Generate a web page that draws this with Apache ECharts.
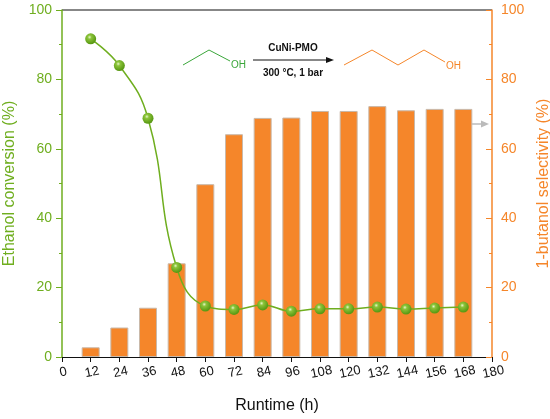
<!DOCTYPE html>
<html><head><meta charset="utf-8">
<script src="https://cdn.jsdelivr.net/npm/echarts@6/dist/echarts.min.js"></script>
<style>html,body{margin:0;padding:0;background:#fff}#c{width:550px;height:419px}</style>
</head><body><div id="c"></div>
<script>
var runtime = [12, 24, 36, 48, 60, 72, 84, 96, 108, 120, 132, 144, 156, 168];
var selectivity = [2.8, 8.5, 14.2, 27, 49.8, 64.2, 68.9, 69.0, 70.9, 70.9, 72.3, 71.1, 71.5, 71.5];
var conversion = [91.7, 84, 68.8, 25.8, 14.7, 13.7, 15.0, 13.2, 13.9, 13.9, 14.4, 13.8, 14.1, 14.4];
var xTicks = [0, 12, 24, 36, 48, 60, 72, 84, 96, 108, 120, 132, 144, 156, 168, 180];
var yTicks = [0, 20, 40, 60, 80, 100];

var GREEN = '#6fae1f', ORANGE = '#f5862a', FONT = 'Liberation Sans, Arial, sans-serif';
var chart = echarts.init(document.getElementById('c'));
function pairs(v){ return runtime.map(function(x,i){return [x, v[i]];}); }
chart.setOption({
  animation: false,
  textStyle: {fontFamily: FONT},
  grid: {left: 62, right: 58, top: 10, bottom: 62, outerBoundsMode: 'none', containLabel: false},
  xAxis: {
    type: 'value', min: xTicks[0], max: xTicks[xTicks.length-1], interval: 12,
    name: 'Runtime (h)', nameLocation: 'middle', nameGap: 41,
    nameTextStyle: {fontSize: 16, color: '#111', fontFamily: FONT},
    axisLine: {lineStyle: {color: '#111', width: 1.2}},
    axisTick: {show: true, length: 5, lineStyle: {color: '#111'}},
    axisLabel: {fontSize: 13, color: '#111', rotate: 12, margin: 9, align: 'center', verticalAlign: 'top', fontFamily: FONT},
    splitLine: {show: false}
  },
  yAxis: [{
    type: 'value', min: yTicks[0], max: yTicks[yTicks.length-1], interval: 20, position: 'left',
    name: 'Ethanol conversion (%)', nameLocation: 'middle', nameGap: 37,
    nameTextStyle: {fontSize: 16, color: GREEN, fontFamily: FONT},
    axisLine: {show: true, lineStyle: {color: GREEN, width: 1.5}},
    axisTick: {show: true, inside: false, length: 6, lineStyle: {color: GREEN}},
    minorTick: {show: true, splitNumber: 2, length: 3, lineStyle: {color: GREEN}},
    axisLabel: {fontSize: 14, color: GREEN, margin: 10, fontFamily: FONT},
    splitLine: {show: false}
  }, {
    type: 'value', min: yTicks[0], max: yTicks[yTicks.length-1], interval: 20, position: 'right',
    name: '1-butanol selectivity (%)', nameLocation: 'middle', nameGap: 36, nameRotate: 90,
    nameTextStyle: {fontSize: 16, color: ORANGE, fontFamily: FONT},
    axisLine: {show: true, lineStyle: {color: ORANGE, width: 1.5}},
    axisTick: {show: true, inside: true, length: 6, lineStyle: {color: ORANGE}},
    minorTick: {show: true, splitNumber: 2, length: 3, lineStyle: {color: ORANGE}},
    axisLabel: {fontSize: 14, color: ORANGE, margin: 9, fontFamily: FONT},
    splitLine: {show: false}
  }],
  series: [{
    type: 'bar', yAxisIndex: 1, data: pairs(selectivity), barWidth: 18,
    itemStyle: {color: ORANGE, borderColor: '#c9b9aa', borderWidth: 1},
    z: 1
  }, {
    type: 'line', yAxisIndex: 0, data: pairs(conversion), smooth: 0.45,
    lineStyle: {color: GREEN, width: 1.5},
    symbol: 'circle', symbolSize: 11,
    itemStyle: {color: new echarts.graphic.RadialGradient(0.4, 0.35, 0.6, [
      {offset: 0, color: '#e6f7c8'}, {offset: 0.3, color: '#8cc43a'}, {offset: 1, color: '#5a9a14'}])},
    z: 3
  }],
  graphic: [
    {type: 'line', shape: {x1: 62, y1: 10, x2: 492, y2: 10}, style: {stroke: '#111', lineWidth: 1.2}},
    {type: 'polyline', shape: {points: [[183, 65], [209, 50], [230, 61]]}, style: {stroke: '#3aa63a', lineWidth: 1, fill: null}},
    {type: 'text', x: 231, y: 60, style: {text: 'OH', fill: '#3aa63a', fontSize: 10, fontFamily: FONT}},
    {type: 'line', shape: {x1: 253, y1: 60, x2: 330, y2: 60}, style: {stroke: '#111', lineWidth: 1}},
    {type: 'polygon', shape: {points: [[334, 60], [326, 57], [326, 63]]}, style: {fill: '#111'}},
    {type: 'text', x: 293, y: 48, style: {text: 'CuNi-PMO', fill: '#111', fontSize: 10, fontWeight: 'bold', align: 'center', verticalAlign: 'middle', fontFamily: FONT}},
    {type: 'text', x: 293, y: 73, style: {text: '300 °C, 1 bar', fill: '#111', fontSize: 10, fontWeight: 'bold', align: 'center', verticalAlign: 'middle', fontFamily: FONT}},
    {type: 'polyline', shape: {points: [[344, 65], [372, 50], [398, 65], [424, 50], [445, 62]]}, style: {stroke: ORANGE, lineWidth: 1, fill: null}},
    {type: 'text', x: 446, y: 61, style: {text: 'OH', fill: ORANGE, fontSize: 10, fontFamily: FONT}},
    {type: 'line', shape: {x1: 464, y1: 124, x2: 482, y2: 124}, style: {stroke: '#bbb', lineWidth: 1.5}},
    {type: 'polygon', shape: {points: [[489, 124], [481, 120.5], [481, 127.5]]}, style: {fill: '#bbb'}}
  ]
});
</script></body></html>
